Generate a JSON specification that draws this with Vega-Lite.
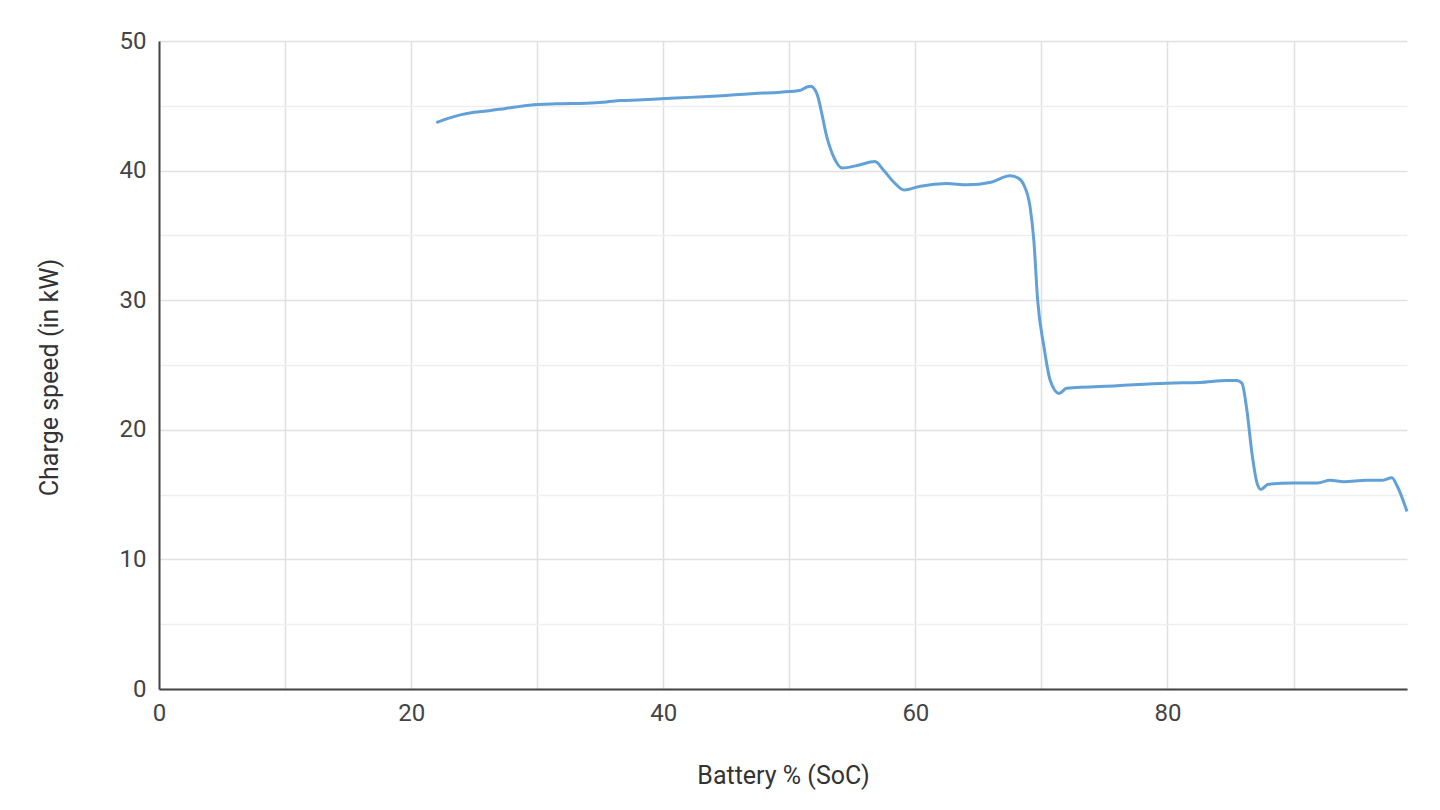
{
  "$schema": "https://vega.github.io/schema/vega-lite/v6.json",
  "width": 1248,
  "height": 648,
  "autosize": "none",
  "padding": {"left": 159, "top": 41, "right": 33, "bottom": 121},
  "background": "#ffffff",
  "config": {
    "view": {"stroke": null},
    "font": "Roboto"
  },
  "data": {
    "values": [
      {"soc": 22.0, "kw": 43.7},
      {"soc": 23.0, "kw": 44.05},
      {"soc": 23.9, "kw": 44.3},
      {"soc": 25.0, "kw": 44.5},
      {"soc": 26.0, "kw": 44.6},
      {"soc": 27.5, "kw": 44.8},
      {"soc": 29.4, "kw": 45.05},
      {"soc": 31.5, "kw": 45.15},
      {"soc": 33.9, "kw": 45.2},
      {"soc": 35.5, "kw": 45.3},
      {"soc": 36.6, "kw": 45.4},
      {"soc": 38.0, "kw": 45.45},
      {"soc": 39.2, "kw": 45.5},
      {"soc": 41.0, "kw": 45.6},
      {"soc": 43.2, "kw": 45.7},
      {"soc": 45.0, "kw": 45.8},
      {"soc": 47.2, "kw": 45.95},
      {"soc": 49.3, "kw": 46.05},
      {"soc": 50.9, "kw": 46.2},
      {"soc": 51.4, "kw": 46.45},
      {"soc": 51.7, "kw": 46.5},
      {"soc": 52.2, "kw": 45.9},
      {"soc": 52.6, "kw": 44.3},
      {"soc": 52.9, "kw": 42.9},
      {"soc": 53.5, "kw": 41.1},
      {"soc": 54.2, "kw": 40.2},
      {"soc": 55.4, "kw": 40.4},
      {"soc": 56.8, "kw": 40.7},
      {"soc": 57.5, "kw": 40.0},
      {"soc": 58.3, "kw": 39.1},
      {"soc": 59.1, "kw": 38.5},
      {"soc": 60.4, "kw": 38.8},
      {"soc": 62.5, "kw": 39.0},
      {"soc": 64.1, "kw": 38.9},
      {"soc": 66.0, "kw": 39.1},
      {"soc": 67.5, "kw": 39.6},
      {"soc": 68.2, "kw": 39.4},
      {"soc": 68.6, "kw": 38.9},
      {"soc": 69.1, "kw": 37.2},
      {"soc": 69.4, "kw": 34.6},
      {"soc": 69.7, "kw": 30.0},
      {"soc": 70.2, "kw": 26.4},
      {"soc": 70.7, "kw": 23.8},
      {"soc": 71.4, "kw": 22.8},
      {"soc": 72.0, "kw": 23.2},
      {"soc": 76.0, "kw": 23.4},
      {"soc": 80.0, "kw": 23.6},
      {"soc": 82.6, "kw": 23.65},
      {"soc": 84.7, "kw": 23.8},
      {"soc": 85.5, "kw": 23.8},
      {"soc": 85.9, "kw": 23.6},
      {"soc": 86.3, "kw": 21.5},
      {"soc": 86.7, "kw": 18.2},
      {"soc": 87.1, "kw": 15.9},
      {"soc": 87.4, "kw": 15.4},
      {"soc": 88.0, "kw": 15.8},
      {"soc": 90.0, "kw": 15.9},
      {"soc": 91.9, "kw": 15.9},
      {"soc": 92.9, "kw": 16.1},
      {"soc": 94.0, "kw": 16.0},
      {"soc": 95.8, "kw": 16.1},
      {"soc": 97.0, "kw": 16.1},
      {"soc": 97.8, "kw": 16.3},
      {"soc": 98.2, "kw": 15.7},
      {"soc": 99.0, "kw": 13.7}
    ]
  },
  "mark": {
    "type": "line",
    "color": "#62a0d8",
    "strokeWidth": 3,
    "interpolate": "monotone"
  },
  "encoding": {
    "x": {
      "field": "soc",
      "type": "quantitative",
      "title": "Battery % (SoC)",
      "scale": {"domain": [0, 99], "nice": false, "zero": true},
      "axis": {
        "values": [0, 10, 20, 30, 40, 50, 60, 70, 80, 90],
        "labelExpr": "datum.value % 20 == 0 ? datum.label : ''",
        "labelFlush": false,
        "grid": true,
        "gridColor": "#e0e0e0",
        "gridWidth": 1.5,
        "ticks": false,
        "domainColor": "#444444",
        "domainWidth": 2,
        "labelFont": "Roboto",
        "labelFontSize": 24,
        "labelColor": "#444444",
        "labelPadding": 12,
        "titleFont": "Roboto",
        "titleFontSize": 25,
        "titleFontWeight": "normal",
        "titleColor": "#333333",
        "titlePadding": 38
      }
    },
    "y": {
      "field": "kw",
      "type": "quantitative",
      "title": "Charge speed (in kW)",
      "scale": {"domain": [0, 50], "nice": false},
      "axis": {
        "values": [0, 5, 10, 15, 20, 25, 30, 35, 40, 45, 50],
        "labelExpr": "datum.value % 10 == 0 ? datum.label : ''",
        "grid": true,
        "gridColor": {
          "condition": {"test": "datum.value % 10 == 0", "value": "#e0e0e0"},
          "value": "#eeeeee"
        },
        "gridWidth": 1.5,
        "ticks": false,
        "domainColor": "#444444",
        "domainWidth": 2,
        "labelFont": "Roboto",
        "labelFontSize": 24,
        "labelColor": "#444444",
        "labelPadding": 13,
        "titleFont": "Roboto",
        "titleFontSize": 25,
        "titleFontWeight": "normal",
        "titleColor": "#333333",
        "titlePadding": 57,
        "titleY": 336
      }
    }
  }
}
